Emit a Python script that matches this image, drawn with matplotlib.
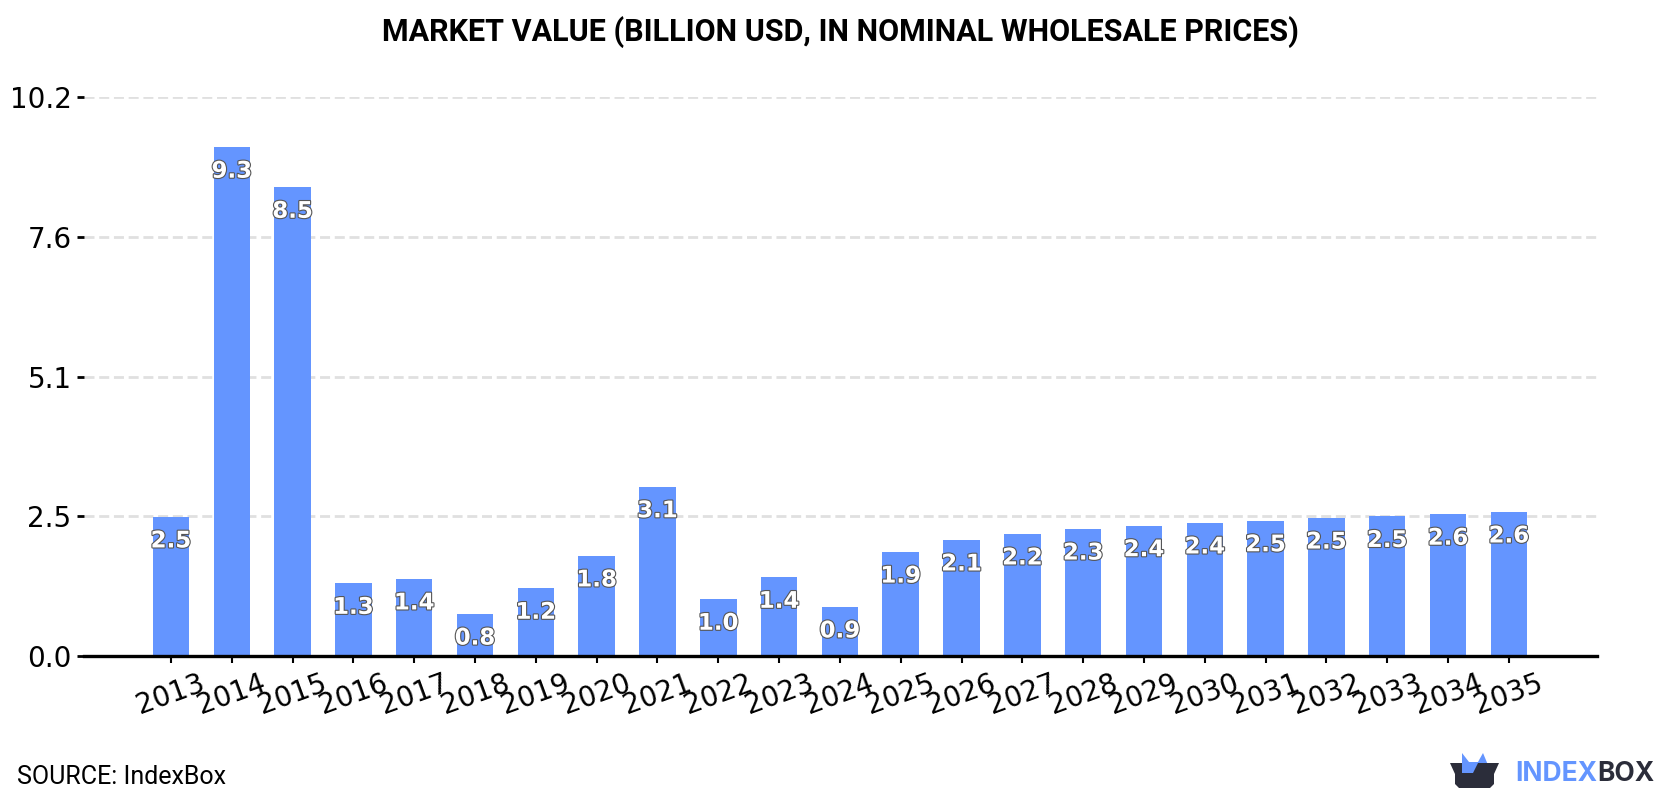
import matplotlib
matplotlib.use("Agg")
import matplotlib.pyplot as plt
import matplotlib.patheffects as pe
from matplotlib.patches import Polygon

years = list(range(2013, 2036))
values = [2.54, 9.28, 8.549, 1.33, 1.41, 0.77, 1.24, 1.83, 3.09, 1.04, 1.44, 0.90,
          1.90, 2.12, 2.23, 2.32, 2.38, 2.43, 2.47, 2.52, 2.549, 2.59, 2.63]
y_ticks = [0.0, 2.55, 5.1, 7.65, 10.2]
y_tick_labels = ["0.0", "2.5", "5.1", "7.6", "10.2"]
title = "MARKET VALUE (BILLION USD, IN NOMINAL WHOLESALE PRICES)"
source = "SOURCE: IndexBox"

W, H = 1680, 800
BLUE = "#6495ff"
DARK = "#2b2d3a"

fig = plt.figure(figsize=(W / 100, H / 100), dpi=100)
ax = fig.add_axes([84 / W, 1 - 656.3 / H, (1597 - 84) / W, (656.3 - 96.7) / H])

ax.set_axisbelow(True)
ax.bar(range(len(years)), values, width=0.6, color=BLUE)

ax.set_xlim(-1.43, 23.45)
ax.set_ylim(0, 10.2)
ax.set_yticks(y_ticks, y_tick_labels, va="center_baseline")
ax.set_xticks(range(len(years)), years, rotation=20)
ax.tick_params(axis="y", labelsize=20, length=5, width=2, pad=4)
ax.tick_params(axis="x", labelsize=20, length=5, width=1.5, pad=4)
ax.grid(axis="y", color="#e0e0e0", linestyle=(0, (3.6, 1.7)), linewidth=2)

for s in ["top", "left", "right"]:
    ax.spines[s].set_visible(False)
ax.spines["bottom"].set_linewidth(2.4)

# value labels sit just inside the top of each bar
for i, v in enumerate(values):
    ax.annotate(f"{v:.1f}", (i, v), xytext=(0, -24), textcoords="offset pixels",
                ha="center", va="center", color="white", fontsize=16.5, fontweight="bold",
                path_effects=[pe.withStroke(linewidth=1.6, foreground="#555555")])

fig.text(0.5, 1 - 32 / H, title, ha="center", va="center", fontsize=22,
         fontweight="bold", family="Roboto", color="black")
fig.text(17 / W, 1 - 777 / H, source, ha="left", va="center", fontsize=18,
         family="Roboto", color="black")

# logo, laid out in pixel units on a full-figure overlay
logo = fig.add_axes([0, 0, 1, 1], facecolor="none")
logo.set_xlim(0, W)
logo.set_ylim(H, 0)
logo.axis("off")
logo.add_patch(Polygon([(1462, 775), (1462, 753), (1469, 762), (1478, 762), (1483, 753),
                        (1488, 765), (1476, 775)], color=BLUE, lw=0))
logo.add_patch(Polygon([(1450, 763), (1462, 763), (1462, 773), (1473, 773), (1478, 763),
                        (1499, 763), (1494, 774), (1494, 784), (1490, 788), (1459, 788),
                        (1455, 784), (1455, 774)], color=DARK, lw=0))
logo.text(1597, 774, "INDEX", ha="right", va="center", fontsize=19, fontweight="bold",
          family="Inter", color=BLUE)
logo.text(1597, 774, "BOX", ha="left", va="center", fontsize=19, fontweight="bold",
          family="Inter", color=DARK)

fig.savefig("out.png", dpi=100)
